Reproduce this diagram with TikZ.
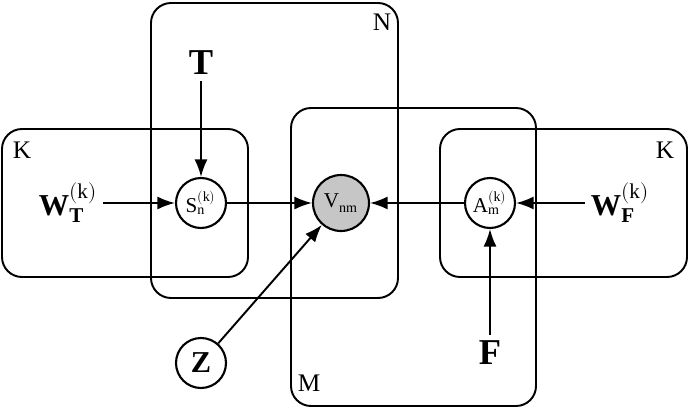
\documentclass[tikz,border=0pt]{standalone}
\usepackage{fontspec}
\setmainfont{Liberation Serif}
\usepackage{unicode-math}
\setmathfont{Latin Modern Math}
\setmathfont[range={it,bfup}]{Liberation Serif}
\usetikzlibrary{positioning}
\tikzset{
  var/.style = {circle, draw, line width = 1.2pt, minimum size = 1cm, inner sep = 0pt, font = \large},
  obs/.style = {var, fill = gray!45},
  plate/.style = {draw, line width = 1.1pt, rounded corners = 0.4cm},
  edge/.style = {-{Latex[length = 3.5mm, width = 2.6mm]}, line width = 1.1pt},
  lbl/.style = {font = \Large}
}
\usetikzlibrary{arrows.meta}

\begin{document}
\begin{tikzpicture}[x = 0.02cm, y = -0.02cm]
	\useasboundingbox (0, 0) rectangle (690, 409);

	% Plates
	\draw [plate] (2, 129) rectangle (248, 277);
	\draw [plate] (151, 3) rectangle (398, 298);
	\draw [plate] (291, 108) rectangle (536, 406);
	\draw [plate] (440, 129) rectangle (687, 277);
	\node [lbl] at (22, 150) {$K$};
	\node [lbl] at (382, 22) {$N$};
	\node [lbl] at (665, 150) {$K$};
	\node [lbl] at (309, 383) {$M$};

	% Variables
	\node [var] (S) at (201, 203) {$S_n^{(k)}$};
	\node [obs, minimum size = 1.12cm] (V) at (341, 203) {$V_{nm}$};
	\node [var] (A) at (490, 203) {$A_m^{(k)}$};
	\node [var] (Z) at (201, 363) {\LARGE\textbf{Z}};
	\node [font = \huge\bfseries] (T) at (201, 63) {T};
	\node [font = \huge\bfseries] (F) at (490, 353) {F};
	\node [font = \LARGE] (WT) at (68, 203) {$\mathbf{W}_{\mathbf{T}}^{(k)}$};
	\node [font = \LARGE] (WF) at (620, 203) {$\mathbf{W}_{\mathbf{F}}^{(k)}$};

	% Edges
	\draw [edge] (T) -- (S);
	\draw [edge] (WT) -- (S);
	\draw [edge] (S) -- (V);
	\draw [edge] (A) -- (V);
	\draw [edge] (WF) -- (A);
	\draw [edge] (F) -- (A);
	\draw [edge] (Z) -- (V);
\end{tikzpicture}
\end{document}
